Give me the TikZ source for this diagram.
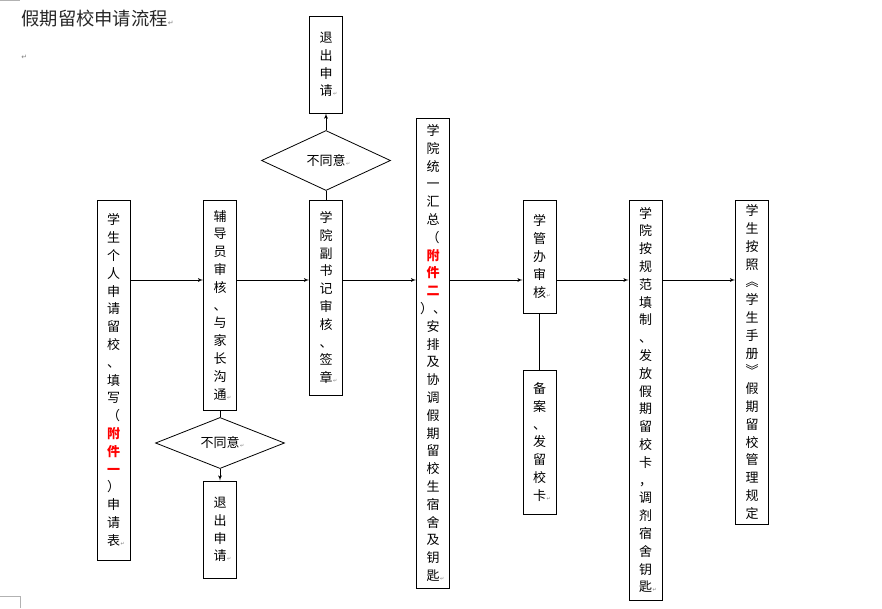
\documentclass[tikz,border=0pt]{standalone}
\usepackage{fontspec}
\setmainfont{Noto Sans CJK SC}
\newfontfamily\symfont{DejaVu Sans}
\usetikzlibrary{shapes,arrows,positioning,calc}
\newcommand{\retmark}{\rlap{\kern0.5pt\symfont\fontsize{5}{5}\selectfont\color{gray}↵}}
\newcommand{\attach}[1]{\textcolor{red}{\bfseries #1}}
\tikzset{
block/.style = {draw, fill=white, rectangle, align = center, minimum width=33pt, inner sep=0pt},
condition/.style = {draw, fill=white, diamond, align = center, minimum width=129pt, inner sep=0pt},
}

\begin{document}
\begin{tikzpicture}[x=1pt, y=-1pt, >=latex', line width=0.8pt, font=\fontsize{13}{17.8}\selectfont]
    \useasboundingbox (0,0) rectangle (882,608);
    % page corner marks
    \draw[gray!60, line width=0.6pt] (0,0.5) -- (20,0.5);
    \draw[gray!60, line width=0.6pt] (0,596) -- (20,596) -- (20,608);
    % title
    \node[anchor=west, inner sep=0pt, font=\fontsize{18.3}{18}\selectfont, text=black!85] (title) at (21,19) {假期留校申请流程{\symfont\fontsize{7}{7}\selectfont\color{gray}↵}};
    \node[anchor=west, inner sep=0pt, font=\symfont\fontsize{7}{7}\selectfont, text=gray] (blank) at (21,57) {↵};
    \coordinate (axis) at (0,280);

    \node [block, minimum height=360pt] (apply) at (113.5,380) {学\\生\\个\\人\\申\\请\\留\\校\\、\\填\\写\\（\\\attach{附}\\\attach{件}\\\attach{一}\\）\\申\\请\\表\retmark};
    \node [block, minimum height=210pt] (tutor) at (220,305) {辅\\导\\员\\审\\核\\、\\与\\家\\长\\沟\\通\retmark};
    \node [condition, minimum height=50pt] (deny1) at (220,443) {不同意\retmark};
    \node [block, minimum height=97pt] (quit1) at (220,529.5) {退\\出\\申\\请\retmark};
    \node [block, minimum height=195pt] (secretary) at (326,297.5) {学\\院\\副\\书\\记\\审\\核\\、\\签\\章\retmark};
    \node [condition, minimum height=60pt] (deny2) at (326,160.5) {不同意\retmark};
    \node [block, minimum height=97pt] (quit2) at (326,64.5) {退\\出\\申\\请\retmark};
    \node [block, minimum height=470pt] (collect) at (433,353) {学\\院\\统\\一\\汇\\总\\（\\\attach{附}\\\attach{件}\\\attach{二}\\）、\\安\\排\\及\\协\\调\\假\\期\\留\\校\\生\\宿\\舍\\及\\钥\\匙\retmark};
    \node [block, minimum height=113pt] (office) at (539.5,256.5) {学\\管\\办\\审\\核\retmark};
    \node [block, minimum height=144pt] (record) at (539.5,442) {备\\案\\、\\发\\留\\校\\卡\retmark};
    \node [block, minimum height=400pt] (card) at (645.5,400) {学\\院\\按\\规\\范\\填\\制\\、\\发\\放\\假\\期\\留\\校\\卡\\，\\调\\剂\\宿\\舍\\钥\\匙\retmark};
    \node [block, minimum height=324pt] (rules) at (752,362) {学\\生\\按\\照\\︽\\学\\生\\手\\册\\︾\\假\\期\\留\\校\\管\\理\\规\\定};

    \draw[->] (apply.east |- axis) -- (tutor.west |- axis);
    \draw[->] (tutor.east |- axis) -- (secretary.west |- axis);
    \draw[->] (secretary.east |- axis) -- (collect.west |- axis);
    \draw[->] (collect.east |- axis) -- (office.west |- axis);
    \draw[->] (office.east |- axis) -- (card.west |- axis);
    \draw[->] (card.east |- axis) -- (rules.west |- axis);
    \draw (tutor) -- (deny1);
    \draw[->] (deny1) -- (quit1);
    \draw (secretary) -- (deny2);
    \draw[->] (deny2) -- (quit2);
    \draw (office) -- (record);
\end{tikzpicture}
\end{document}
